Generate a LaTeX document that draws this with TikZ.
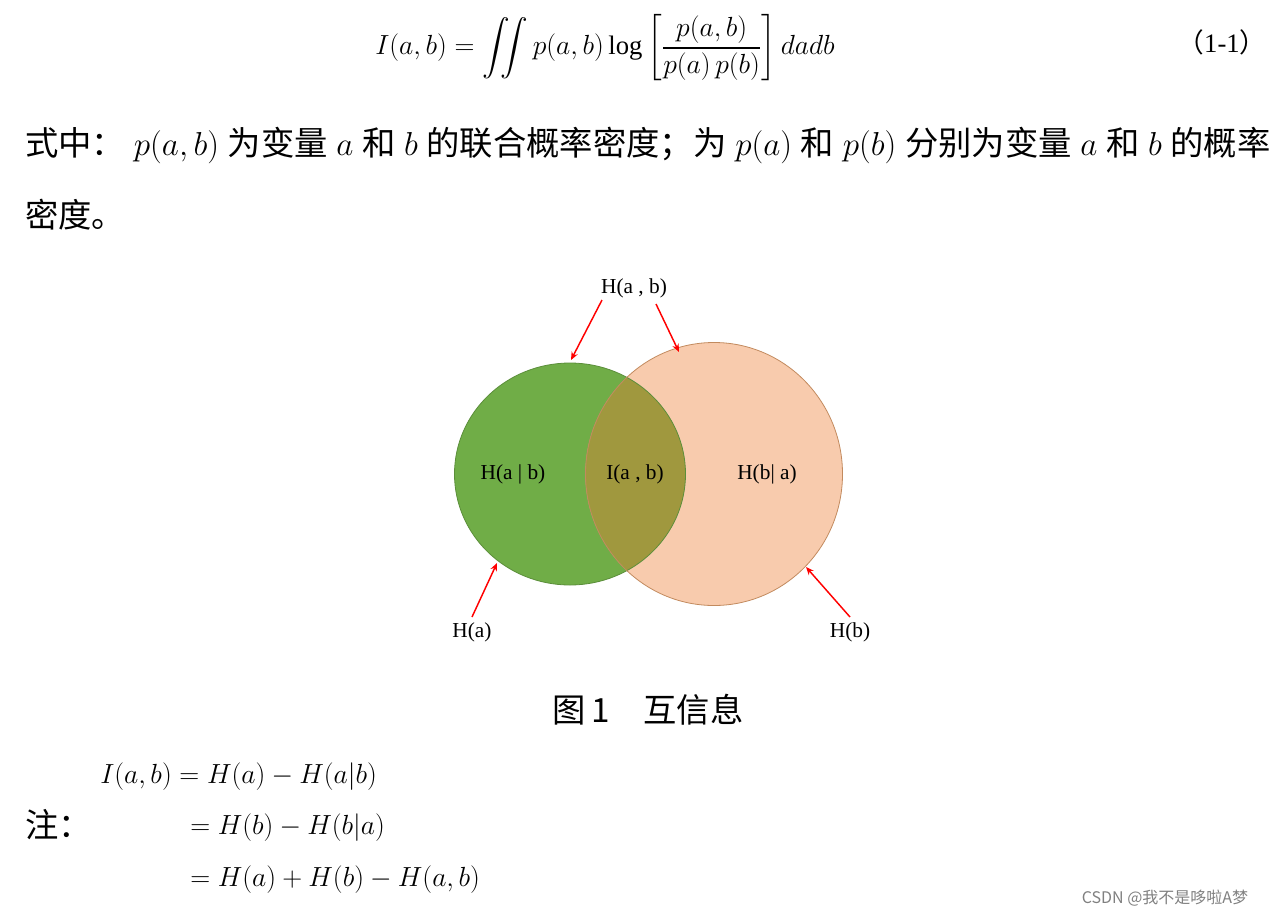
\documentclass[tikz,border=0pt]{standalone}
\usepackage{amsmath}
\usepackage{fontspec}
\setmainfont{Liberation Serif}
\newfontfamily\cjk{Noto Sans CJK SC}
\definecolor{gfill}{HTML}{70AD47}
\definecolor{gline}{HTML}{5B8E3A}
\definecolor{ofill}{HTML}{F8CBAD}
\definecolor{oline}{HTML}{C28A5E}
\definecolor{olap}{HTML}{A0983E}
\tikzset{lab/.style={font=\fontsize{16}{19}\selectfont, inner sep=0pt},
 rarr/.style={red, line width=1.1pt, -{Stealth[length=6pt,width=5pt]}},
 zh/.style={font=\cjk\fontsize{25}{28}\selectfont, inner sep=0pt, anchor=west}}
\usetikzlibrary{arrows.meta}
\newcommand{\mm}[1]{\hspace{0pt plus 1fil}$#1$\hspace{0pt plus 1fil}}
\begin{document}
\begin{tikzpicture}[x=0.75pt,y=-0.75pt]
\useasboundingbox (0,0) rectangle (1282,918);
% equation
\node[inner sep=0pt, font=\fontsize{20}{24}\selectfont] (eq) at (605,48) {$I(a,b)=\displaystyle\iint p(a,b)\log\left[\frac{p(a,b)}{p(a)\,p(b)}\right]dadb$};
\node[inner sep=0pt, anchor=center, font=\fontsize{20}{22}\selectfont] (num) at (1222,42) {\cjk（\rmfamily1-1\cjk）};
% text
\node[zh] (t1) at (25,145) {\makebox[934pt][s]{式中：\mm{p(a,b)}为变量\mm{a}和\mm{b}的联合概率密度；为\mm{p(a)}和\mm{p(b)}分别为变量\mm{a}和\mm{b}的概率}};
\node[zh] (t2) at (25,215) {密度。};
% venn
\fill[gfill] (570,474) ellipse [x radius=115.5, y radius=111];
\fill[ofill] (714,474) ellipse [x radius=128.5, y radius=131.5];
\begin{scope}
\clip (570,474) ellipse [x radius=115.5, y radius=111];
\fill[olap] (714,474) ellipse [x radius=128.5, y radius=131.5];
\end{scope}
\draw[gline, line width=0.6pt] (570,474) ellipse [x radius=115.5, y radius=111];
\draw[oline, line width=0.6pt] (714,474) ellipse [x radius=128.5, y radius=131.5];
\node[lab] (hab1) at (513,474) {H(a | b)};
\node[lab] (iab) at (635,474) {I(a , b)};
\node[lab] (hba) at (767,474) {H(b| a)};
\node[lab] (hab) at (634,288) {H(a , b)};
\node[lab] (ha) at (472,632) {H(a)};
\node[lab] (hb) at (850,632) {H(b)};
\coordinate (p1) at (571,360);
\coordinate (p2) at (679,352);
\coordinate (p3) at (497,563);
\coordinate (p4) at (806,567);
\draw[rarr] (602,300) -- (p1);
\draw[rarr] (656,304) -- (p2);
\draw[rarr] (472,617) -- (p3);
\draw[rarr] (850,617) -- (p4);
% caption
\node[zh, anchor=center, font=\cjk\fontsize{25}{28}\selectfont] (cap) at (648,710) {图\,1\quad 互信息};
% note
\node[zh] (zhu) at (25,825) {注：};
\node[inner sep=0pt, anchor=west, font=\fontsize{20}{24}\selectfont] (n1) at (100,777) {$I(a,b)=H(a)-H(a|b)$};
\node[inner sep=0pt, anchor=west, font=\fontsize{20}{24}\selectfont] (n2) at (190,828) {$=H(b)-H(b|a)$};
\node[inner sep=0pt, anchor=west, font=\fontsize{20}{24}\selectfont] (n3) at (190,880) {$=H(a)+H(b)-H(a,b)$};
\node[inner sep=0pt, text=gray, font=\cjk\fontsize{12}{14}\selectfont] (wm) at (1165,898) {CSDN @我不是哆啦A梦};
\end{tikzpicture}
\end{document}
